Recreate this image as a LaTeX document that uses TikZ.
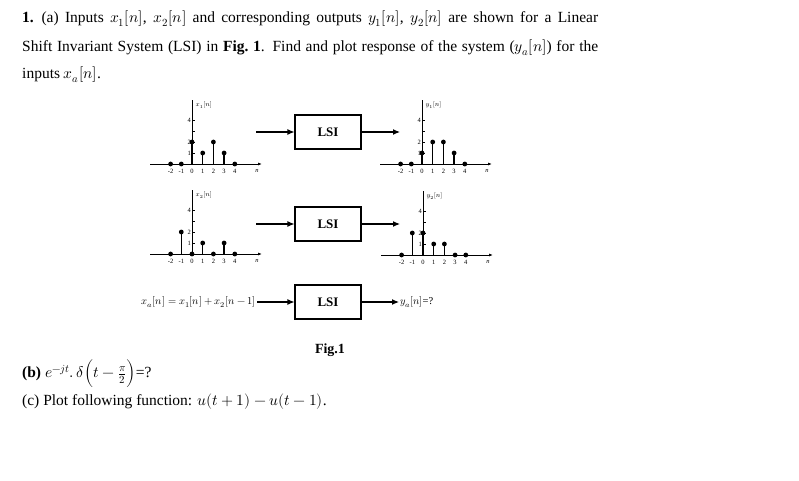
\documentclass[tikz,border=0pt]{standalone}
\usepackage{fontspec}
\setmainfont{Liberation Serif}
\usepackage{amsmath}
\usepackage{unicode-math}
\setmathfont{Latin Modern Math}
\usetikzlibrary{arrows.meta}
\begin{document}
\begin{tikzpicture}[x=1pt,y=-1pt,
  txt/.style={anchor=west,inner sep=0pt,font=\fontsize{15.5}{17}\selectfont},
  lsibox/.style={draw,line width=1.1pt,minimum width=66pt,minimum height=34pt,font=\bfseries\fontsize{13}{15}\selectfont},
  arr/.style={-{Latex[length=7pt,width=6pt]},line width=1.1pt},
  ax/.style={-{Latex[length=4pt,width=3pt]},line width=0.8pt},
  stem/.style={line width=1.4pt},
  tiny/.style={font=\fontsize{6.5}{7}\selectfont,inner sep=0.5pt}]
\useasboundingbox (0,0) rectangle (799,481);
\node[txt] (l1) at (22,19) {\makebox[576pt][s]{\textbf{1.}\enspace(a) Inputs $x_1[n]$, $x_2[n]$ and corresponding outputs $y_1[n]$, $y_2[n]$ are shown for a Linear}};
\node[txt] (l2) at (22,48) {\makebox[576pt][s]{Shift Invariant System (LSI) in \textbf{Fig.~1}.\enspace Find and plot response of the system ($y_a[n]$) for the}};
\node[txt] (l3) at (22,75) {inputs $x_a[n]$.};
\newcommand{\myplot}[4]{%
  \begin{scope}[shift={(#1,#2)}]
  \draw[ax] (-42,0) -- (70,0);
  \draw[line width=0.8pt] (0,0) -- (0,-64);
  \foreach \t in {1,2,3,4}{\draw[line width=0.5pt] (0,-11*\t) -- (3,-11*\t);}
  \node[tiny,anchor=west] at (3,-59) {#3};
  \node[tiny,anchor=east] at (-0.5,-44) {4};
  \node[tiny,anchor=east] at (-0.5,-22) {2};
  \node[tiny,anchor=east] at (-0.5,-11) {1};
  \foreach \n in {-2,-1,0,1,2,3,4}{\node[tiny] at (10.7*\n,7) {\n};}
  \node[tiny,font=\itshape\fontsize{6.5}{7}\selectfont] at (65,7) {n};
  \foreach \n/\v in {#4}{\draw[stem] (10.7*\n,0) -- (10.7*\n,-11*\v); \fill (10.7*\n,-11*\v) circle (2.4pt);}
  \end{scope}}
\myplot{192}{164}{$x_1[n]$}{-2/0,-1/0,0/2,1/1,2/2,3/1,4/0}
\myplot{192}{254}{$x_2[n]$}{-2/0,-1/2,0/0,1/1,2/0,3/1,4/0}
\myplot{422}{164}{$y_1[n]$}{-2/0,-1/0,0/1,1/2,2/2,3/1,4/0}
\myplot{423}{255}{$y_2[n]$}{-2/0,-1/2,0/2,1/1,2/1,3/0,4/0}
\node[lsibox] (b1) at (328,132) {LSI};
\node[lsibox] (b2) at (328,224) {LSI};
\node[lsibox] (b3) at (328,302) {LSI};
\coordinate (i1) at (256,132); \coordinate (o1) at (400,132);
\coordinate (i2) at (256,224); \coordinate (o2) at (400,224);
\draw[arr] (i1) -- (b1); \draw[arr] (b1) -- (o1);
\draw[arr] (i2) -- (b2); \draw[arr] (b2) -- (o2);
\node[anchor=east,inner sep=1pt,font=\fontsize{10.5}{12}\selectfont] (xa) at (257,302) {$x_a[n]=x_1[n]+x_2[n-1]$};
\node[anchor=west,inner sep=1pt,font=\fontsize{10.5}{12}\selectfont] (ya) at (399,302) {$y_a[n]$=?};
\draw[arr] (xa) -- (b3); \draw[arr] (b3) -- (ya);
\node[font=\bfseries\fontsize{14}{16}\selectfont] (fig) at (330,350) {Fig.1};
\node[txt] (lb) at (22,374) {\textbf{(b)} $e^{-jt}.\,\delta\Bigl(t-\tfrac{\pi}{2}\Bigr)$=?};
\node[txt] (lc) at (22,402) {(c) Plot following function: $u(t+1)-u(t-1)$.};
\end{tikzpicture}
\end{document}
